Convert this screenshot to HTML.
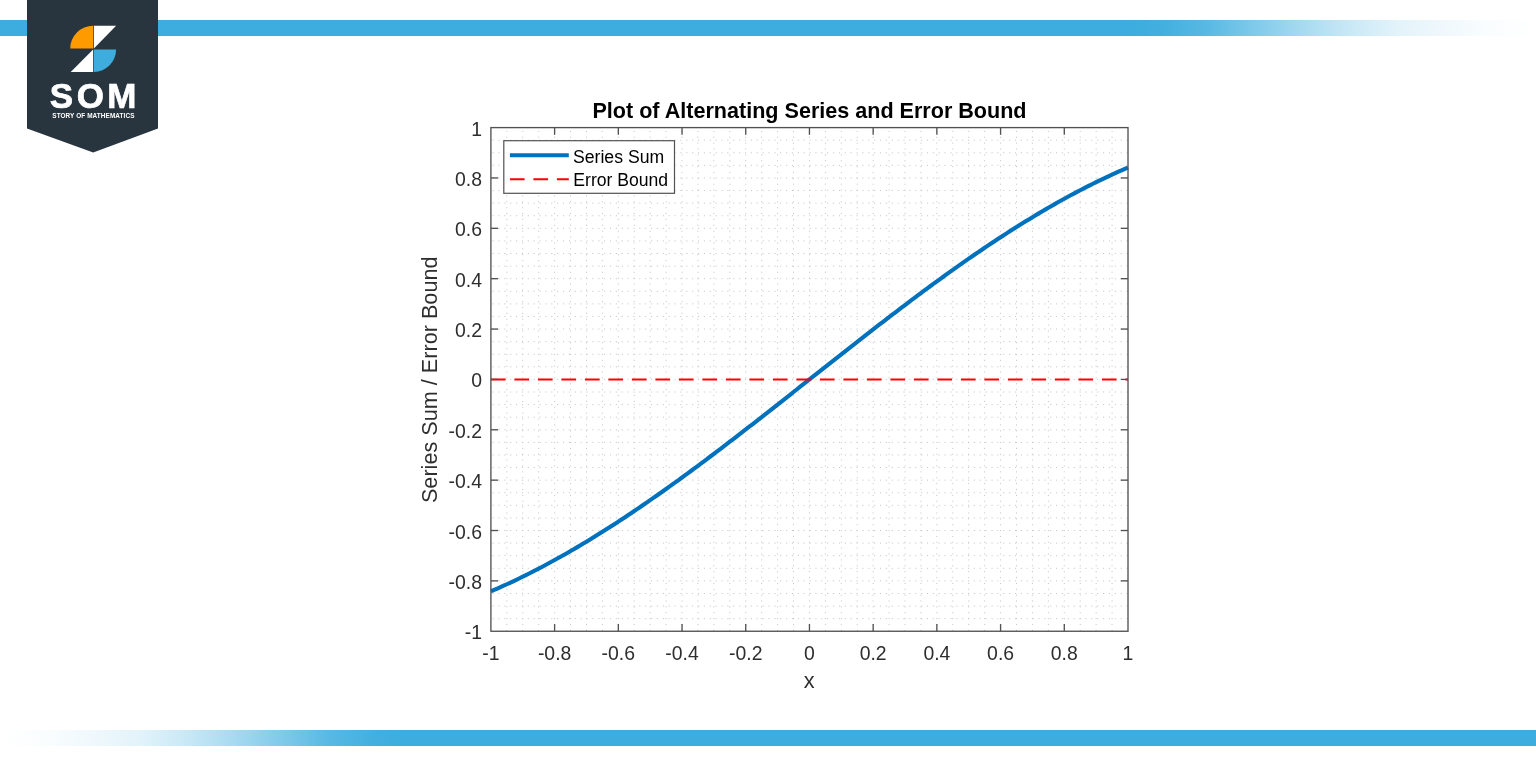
<!DOCTYPE html>
<html lang="en"><head><meta charset="utf-8"><title>Plot of Alternating Series and Error Bound</title>
<style>
html,body{margin:0;padding:0;background:#fff;}
body{width:1536px;height:768px;position:relative;overflow:hidden;font-family:"Liberation Sans",Arial,Helvetica,sans-serif;}
.bar{position:absolute;left:0;width:1536px;height:16.6px;}
#topbar{top:19.55px;height:16.1px;background:linear-gradient(to right,#3cadde 0,#3cadde 1130px,#42afdf 1161px,#59b9e3 1208px,#80caea 1255px,#a7daf0 1302px,#c8e8f6 1348px,#e2f3fa 1396px,#eff8fc 1442px,#f9fdfe 1486px,#ffffff 1536px);}
#botbar{top:729.55px;height:16px;background:linear-gradient(to right,#ffffff 0px,#f9fdfe 50px,#eff8fc 94px,#e2f3fa 140px,#c8e8f6 188px,#a7daf0 234px,#80caea 281px,#59b9e3 328px,#42afdf 375px,#3cadde 406px,#3cadde 1536px);}
svg{position:absolute;left:0;top:0;}
svg text{font-family:"Liberation Sans",Arial,Helvetica,sans-serif;}
</style></head><body>
<div class="bar" id="topbar"></div>
<div class="bar" id="botbar"></div>
<svg width="1536" height="768" viewBox="0 0 1536 768">

<g id="logo">
<polygon points="27,0 158,0 158,128.4 93.2,152.6 27,128.4" fill="#28353f"/>
<path d="M93.1,48.6 L70.2,48.6 A22.9,22.9 0 0 1 93.1,25.7 Z" fill="#ff9a00"/>
<polygon points="93.9,25.8 116.1,25.8 93.9,48.4" fill="#ffffff"/>
<path d="M93.9,49.5 L116.1,49.5 A22.2,22.4 0 0 1 93.9,71.9 Z" fill="#3eaddd"/>
<polygon points="93.1,49.6 93.1,72.1 70.7,72.1" fill="#ffffff"/>
<text x="94.9" y="107.6" text-anchor="middle" font-size="35" font-weight="bold" fill="#fff" stroke="#fff" stroke-width="0.7" letter-spacing="3.5">SOM</text>
<text x="93.4" y="118.1" text-anchor="middle" font-size="6.4" font-weight="bold" fill="#fff" letter-spacing="0.1">STORY OF MATHEMATICS</text>
</g>
<g id="grid" stroke="#c6c6c6" stroke-width="1" stroke-dasharray="1.1 4.77" fill="none">
<line x1="506.83" y1="130.85" x2="506.83" y2="631.25"/>
<line x1="522.75" y1="130.85" x2="522.75" y2="631.25"/>
<line x1="538.68" y1="130.85" x2="538.68" y2="631.25"/>
<line x1="554.61" y1="130.85" x2="554.61" y2="631.25"/>
<line x1="570.54" y1="130.85" x2="570.54" y2="631.25"/>
<line x1="586.47" y1="130.85" x2="586.47" y2="631.25"/>
<line x1="602.39" y1="130.85" x2="602.39" y2="631.25"/>
<line x1="618.32" y1="130.85" x2="618.32" y2="631.25"/>
<line x1="634.25" y1="130.85" x2="634.25" y2="631.25"/>
<line x1="650.17" y1="130.85" x2="650.17" y2="631.25"/>
<line x1="666.10" y1="130.85" x2="666.10" y2="631.25"/>
<line x1="682.03" y1="130.85" x2="682.03" y2="631.25"/>
<line x1="697.96" y1="130.85" x2="697.96" y2="631.25"/>
<line x1="713.88" y1="130.85" x2="713.88" y2="631.25"/>
<line x1="729.81" y1="130.85" x2="729.81" y2="631.25"/>
<line x1="745.74" y1="130.85" x2="745.74" y2="631.25"/>
<line x1="761.67" y1="130.85" x2="761.67" y2="631.25"/>
<line x1="777.60" y1="130.85" x2="777.60" y2="631.25"/>
<line x1="793.52" y1="130.85" x2="793.52" y2="631.25"/>
<line x1="809.45" y1="130.85" x2="809.45" y2="631.25"/>
<line x1="825.38" y1="130.85" x2="825.38" y2="631.25"/>
<line x1="841.31" y1="130.85" x2="841.31" y2="631.25"/>
<line x1="857.23" y1="130.85" x2="857.23" y2="631.25"/>
<line x1="873.16" y1="130.85" x2="873.16" y2="631.25"/>
<line x1="889.09" y1="130.85" x2="889.09" y2="631.25"/>
<line x1="905.02" y1="130.85" x2="905.02" y2="631.25"/>
<line x1="920.94" y1="130.85" x2="920.94" y2="631.25"/>
<line x1="936.87" y1="130.85" x2="936.87" y2="631.25"/>
<line x1="952.80" y1="130.85" x2="952.80" y2="631.25"/>
<line x1="968.72" y1="130.85" x2="968.72" y2="631.25"/>
<line x1="984.65" y1="130.85" x2="984.65" y2="631.25"/>
<line x1="1000.58" y1="130.85" x2="1000.58" y2="631.25"/>
<line x1="1016.51" y1="130.85" x2="1016.51" y2="631.25"/>
<line x1="1032.43" y1="130.85" x2="1032.43" y2="631.25"/>
<line x1="1048.36" y1="130.85" x2="1048.36" y2="631.25"/>
<line x1="1064.29" y1="130.85" x2="1064.29" y2="631.25"/>
<line x1="1080.22" y1="130.85" x2="1080.22" y2="631.25"/>
<line x1="1096.14" y1="130.85" x2="1096.14" y2="631.25"/>
<line x1="1112.07" y1="130.85" x2="1112.07" y2="631.25"/>
<line x1="492.55" y1="140.19" x2="1128.00" y2="140.19"/>
<line x1="492.55" y1="152.78" x2="1128.00" y2="152.78"/>
<line x1="492.55" y1="165.37" x2="1128.00" y2="165.37"/>
<line x1="492.55" y1="177.96" x2="1128.00" y2="177.96"/>
<line x1="492.55" y1="190.56" x2="1128.00" y2="190.56"/>
<line x1="492.55" y1="203.15" x2="1128.00" y2="203.15"/>
<line x1="492.55" y1="215.74" x2="1128.00" y2="215.74"/>
<line x1="492.55" y1="228.33" x2="1128.00" y2="228.33"/>
<line x1="492.55" y1="240.92" x2="1128.00" y2="240.92"/>
<line x1="492.55" y1="253.51" x2="1128.00" y2="253.51"/>
<line x1="492.55" y1="266.10" x2="1128.00" y2="266.10"/>
<line x1="492.55" y1="278.69" x2="1128.00" y2="278.69"/>
<line x1="492.55" y1="291.29" x2="1128.00" y2="291.29"/>
<line x1="492.55" y1="303.88" x2="1128.00" y2="303.88"/>
<line x1="492.55" y1="316.47" x2="1128.00" y2="316.47"/>
<line x1="492.55" y1="329.06" x2="1128.00" y2="329.06"/>
<line x1="492.55" y1="341.65" x2="1128.00" y2="341.65"/>
<line x1="492.55" y1="354.24" x2="1128.00" y2="354.24"/>
<line x1="492.55" y1="366.83" x2="1128.00" y2="366.83"/>
<line x1="492.55" y1="379.42" x2="1128.00" y2="379.42"/>
<line x1="492.55" y1="392.02" x2="1128.00" y2="392.02"/>
<line x1="492.55" y1="404.61" x2="1128.00" y2="404.61"/>
<line x1="492.55" y1="417.20" x2="1128.00" y2="417.20"/>
<line x1="492.55" y1="429.79" x2="1128.00" y2="429.79"/>
<line x1="492.55" y1="442.38" x2="1128.00" y2="442.38"/>
<line x1="492.55" y1="454.97" x2="1128.00" y2="454.97"/>
<line x1="492.55" y1="467.56" x2="1128.00" y2="467.56"/>
<line x1="492.55" y1="480.15" x2="1128.00" y2="480.15"/>
<line x1="492.55" y1="492.75" x2="1128.00" y2="492.75"/>
<line x1="492.55" y1="505.34" x2="1128.00" y2="505.34"/>
<line x1="492.55" y1="517.93" x2="1128.00" y2="517.93"/>
<line x1="492.55" y1="530.52" x2="1128.00" y2="530.52"/>
<line x1="492.55" y1="543.11" x2="1128.00" y2="543.11"/>
<line x1="492.55" y1="555.70" x2="1128.00" y2="555.70"/>
<line x1="492.55" y1="568.29" x2="1128.00" y2="568.29"/>
<line x1="492.55" y1="580.88" x2="1128.00" y2="580.88"/>
<line x1="492.55" y1="593.48" x2="1128.00" y2="593.48"/>
<line x1="492.55" y1="606.07" x2="1128.00" y2="606.07"/>
<line x1="492.55" y1="618.66" x2="1128.00" y2="618.66"/>
</g>
<polyline points="490.90,591.33 494.09,589.96 497.27,588.57 500.46,587.15 503.64,585.72 506.83,584.26 510.01,582.79 513.20,581.29 516.38,579.78 519.57,578.24 522.75,576.69 525.94,575.11 529.13,573.52 532.31,571.90 535.50,570.27 538.68,568.62 541.87,566.94 545.05,565.25 548.24,563.55 551.42,561.82 554.61,560.07 557.80,558.31 560.98,556.53 564.17,554.73 567.35,552.91 570.54,551.08 573.72,549.23 576.91,547.36 580.09,545.47 583.28,543.57 586.47,541.66 589.65,539.72 592.84,537.77 596.02,535.80 599.21,533.82 602.39,531.83 605.58,529.81 608.76,527.79 611.95,525.74 615.13,523.69 618.32,521.62 621.51,519.53 624.69,517.43 627.88,515.32 631.06,513.19 634.25,511.05 637.43,508.90 640.62,506.73 643.80,504.55 646.99,502.36 650.17,500.16 653.36,497.94 656.55,495.71 659.73,493.47 662.92,491.22 666.10,488.96 669.29,486.69 672.47,484.40 675.66,482.11 678.84,479.80 682.03,477.49 685.22,475.17 688.40,472.83 691.59,470.49 694.77,468.14 697.96,465.78 701.14,463.41 704.33,461.03 707.51,458.64 710.70,456.25 713.88,453.84 717.07,451.43 720.26,449.02 723.44,446.59 726.63,444.16 729.81,441.73 733.00,439.28 736.18,436.84 739.37,434.38 742.55,431.92 745.74,429.45 748.93,426.98 752.11,424.51 755.30,422.03 758.48,419.55 761.67,417.06 764.85,414.57 768.04,412.07 771.22,409.57 774.41,407.07 777.60,404.57 780.78,402.06 783.97,399.55 787.15,397.04 790.34,394.53 793.52,392.01 796.71,389.50 799.89,386.98 803.08,384.46 806.26,381.94 809.45,379.43 812.64,376.91 815.82,374.39 819.01,371.87 822.19,369.35 825.38,366.84 828.56,364.32 831.75,361.81 834.93,359.30 838.12,356.79 841.31,354.28 844.49,351.78 847.68,349.28 850.86,346.78 854.05,344.28 857.23,341.79 860.42,339.30 863.60,336.82 866.79,334.34 869.97,331.87 873.16,329.40 876.35,326.93 879.53,324.47 882.72,322.01 885.90,319.57 889.09,317.12 892.27,314.69 895.46,312.26 898.64,309.83 901.83,307.42 905.01,305.01 908.20,302.60 911.39,300.21 914.57,297.82 917.76,295.44 920.94,293.07 924.13,290.71 927.31,288.36 930.50,286.02 933.68,283.68 936.87,281.36 940.06,279.05 943.24,276.74 946.43,274.45 949.61,272.16 952.80,269.89 955.98,267.63 959.17,265.38 962.35,263.14 965.54,260.91 968.73,258.69 971.91,256.49 975.10,254.30 978.28,252.12 981.47,249.95 984.65,247.80 987.84,245.66 991.02,243.53 994.21,241.42 997.39,239.32 1000.58,237.23 1003.77,235.16 1006.95,233.11 1010.14,231.06 1013.32,229.04 1016.51,227.02 1019.69,225.03 1022.88,223.05 1026.06,221.08 1029.25,219.13 1032.43,217.19 1035.62,215.28 1038.81,213.38 1041.99,211.49 1045.18,209.62 1048.36,207.77 1051.55,205.94 1054.73,204.12 1057.92,202.32 1061.10,200.54 1064.29,198.78 1067.48,197.03 1070.66,195.30 1073.85,193.60 1077.03,191.91 1080.22,190.23 1083.40,188.58 1086.59,186.95 1089.77,185.33 1092.96,183.74 1096.14,182.16 1099.33,180.61 1102.52,179.07 1105.70,177.56 1108.89,176.06 1112.07,174.59 1115.26,173.13 1118.44,171.70 1121.63,170.28 1124.81,168.89 1128.00,167.52" fill="none" stroke="#0072bd" stroke-width="4.1" stroke-linejoin="round"/>
<line x1="490.90" y1="379.43" x2="1128.00" y2="379.43" stroke="#ff0000" stroke-width="2" stroke-dasharray="14.7 8.8"/>
<g id="axes" stroke="#525252" stroke-width="1.35" fill="none">
<rect x="490.90" y="127.60" width="637.10" height="503.65"/>
<line x1="554.61" y1="631.25" x2="554.61" y2="624.05"/>
<line x1="554.61" y1="127.60" x2="554.61" y2="134.80"/>
<line x1="490.90" y1="177.96" x2="498.10" y2="177.96"/>
<line x1="1128.00" y1="177.96" x2="1120.80" y2="177.96"/>
<line x1="618.32" y1="631.25" x2="618.32" y2="624.05"/>
<line x1="618.32" y1="127.60" x2="618.32" y2="134.80"/>
<line x1="490.90" y1="228.33" x2="498.10" y2="228.33"/>
<line x1="1128.00" y1="228.33" x2="1120.80" y2="228.33"/>
<line x1="682.03" y1="631.25" x2="682.03" y2="624.05"/>
<line x1="682.03" y1="127.60" x2="682.03" y2="134.80"/>
<line x1="490.90" y1="278.69" x2="498.10" y2="278.69"/>
<line x1="1128.00" y1="278.69" x2="1120.80" y2="278.69"/>
<line x1="745.74" y1="631.25" x2="745.74" y2="624.05"/>
<line x1="745.74" y1="127.60" x2="745.74" y2="134.80"/>
<line x1="490.90" y1="329.06" x2="498.10" y2="329.06"/>
<line x1="1128.00" y1="329.06" x2="1120.80" y2="329.06"/>
<line x1="809.45" y1="631.25" x2="809.45" y2="624.05"/>
<line x1="809.45" y1="127.60" x2="809.45" y2="134.80"/>
<line x1="490.90" y1="379.42" x2="498.10" y2="379.42"/>
<line x1="1128.00" y1="379.42" x2="1120.80" y2="379.42"/>
<line x1="873.16" y1="631.25" x2="873.16" y2="624.05"/>
<line x1="873.16" y1="127.60" x2="873.16" y2="134.80"/>
<line x1="490.90" y1="429.79" x2="498.10" y2="429.79"/>
<line x1="1128.00" y1="429.79" x2="1120.80" y2="429.79"/>
<line x1="936.87" y1="631.25" x2="936.87" y2="624.05"/>
<line x1="936.87" y1="127.60" x2="936.87" y2="134.80"/>
<line x1="490.90" y1="480.15" x2="498.10" y2="480.15"/>
<line x1="1128.00" y1="480.15" x2="1120.80" y2="480.15"/>
<line x1="1000.58" y1="631.25" x2="1000.58" y2="624.05"/>
<line x1="1000.58" y1="127.60" x2="1000.58" y2="134.80"/>
<line x1="490.90" y1="530.52" x2="498.10" y2="530.52"/>
<line x1="1128.00" y1="530.52" x2="1120.80" y2="530.52"/>
<line x1="1064.29" y1="631.25" x2="1064.29" y2="624.05"/>
<line x1="1064.29" y1="127.60" x2="1064.29" y2="134.80"/>
<line x1="490.90" y1="580.88" x2="498.10" y2="580.88"/>
<line x1="1128.00" y1="580.88" x2="1120.80" y2="580.88"/>
</g>
<g id="xticks" font-size="19.4" fill="#2e2e2e" text-anchor="middle">
<text x="490.90" y="660.3">-1</text>
<text x="554.61" y="660.3">-0.8</text>
<text x="618.32" y="660.3">-0.6</text>
<text x="682.03" y="660.3">-0.4</text>
<text x="745.74" y="660.3">-0.2</text>
<text x="809.45" y="660.3">0</text>
<text x="873.16" y="660.3">0.2</text>
<text x="936.87" y="660.3">0.4</text>
<text x="1000.58" y="660.3">0.6</text>
<text x="1064.29" y="660.3">0.8</text>
<text x="1128.00" y="660.3">1</text>
</g>
<g id="yticks" font-size="19.4" fill="#2e2e2e" text-anchor="end">
<text x="482.0" y="639.25">-1</text>
<text x="482.0" y="588.88">-0.8</text>
<text x="482.0" y="538.52">-0.6</text>
<text x="482.0" y="488.16">-0.4</text>
<text x="482.0" y="437.79">-0.2</text>
<text x="482.0" y="387.43">0</text>
<text x="482.0" y="337.06">0.2</text>
<text x="482.0" y="286.70">0.4</text>
<text x="482.0" y="236.33">0.6</text>
<text x="482.0" y="185.97">0.8</text>
<text x="482.0" y="135.60">1</text>
</g>
<text x="809.2" y="687.8" font-size="21.65" fill="#2e2e2e" text-anchor="middle">x</text>
<text transform="translate(437.0,379.8) rotate(-90)" font-size="21.65" fill="#2e2e2e" text-anchor="middle">Series Sum / Error Bound</text>
<text x="809.5" y="117.8" font-size="21.57" font-weight="bold" fill="#000" text-anchor="middle">Plot of Alternating Series and Error Bound</text>
<rect x="503.8" y="140.7" width="170.7" height="52.6" fill="#fff" stroke="#525252" stroke-width="1.2"/>
<line x1="509.9" y1="155.3" x2="568.8" y2="155.3" stroke="#0072bd" stroke-width="4.1"/>
<line x1="509.9" y1="179.3" x2="568.8" y2="179.3" stroke="#ff0000" stroke-width="2" stroke-dasharray="14.7 8.8"/>
<text x="573.0" y="162.8" font-size="17.65" fill="#000">Series Sum</text>
<text x="573.3" y="186.2" font-size="17.6" fill="#000">Error Bound</text>
</svg></body></html>
